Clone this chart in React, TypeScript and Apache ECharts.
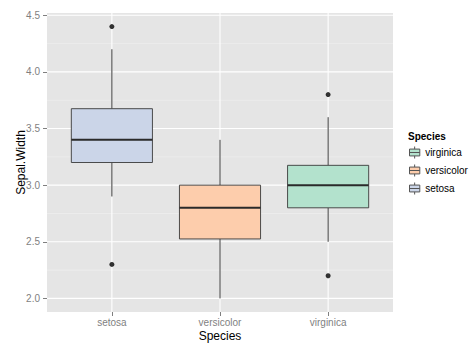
import React, { useEffect, useRef } from "react";
import * as echarts from "echarts";

const categories = ["setosa", "versicolor", "virginica"];
const lowerWhisker = [2.9, 2.0, 2.5];
const q1 = [3.2, 2.525, 2.8];
const medians = [3.4, 2.8, 3.0];
const q3 = [3.675, 3.0, 3.175];
const upperWhisker = [4.2, 3.4, 3.6];
const outliers: number[][] = [[2.3, 4.4], [], [2.2, 3.8]];
const fills = ["#CBD5E8", "#FDCDAC", "#B3E2CD"];
const yMajor = [2.0, 2.5, 3.0, 3.5, 4.0, 4.5];
const yMinor = [2.25, 2.75, 3.25, 3.75, 4.25];
const legendOrder = ["virginica", "versicolor", "setosa"];

export default function App() {
  const ref = useRef<HTMLDivElement>(null);
  useEffect(() => {
    if (!ref.current) return;
    const chart = echarts.init(ref.current, null, { renderer: "svg" });
    const xPos = categories.map((_, i) => i + 1);

    const gridSeries: any = {
      type: "custom",
      name: "_grid",
      silent: true,
      z: 1,
      data: [
        ...yMinor.map((v) => [0, v, 0]),
        ...yMajor.map((v) => [0, v, 1]),
        ...xPos.map((x) => [1, x, 1]),
      ],
      renderItem: (params: any, api: any) => {
        const cs = params.coordSys;
        const kind = api.value(0);
        const v = api.value(1);
        const major = api.value(2) === 1;
        if (kind === 0) {
          const y = api.coord([1, v])[1];
          return {
            type: "line",
            shape: { x1: cs.x, y1: y, x2: cs.x + cs.width, y2: y },
            style: { stroke: major ? "#FFFFFF" : "#F2F2F2", lineWidth: major ? 1.1 : 0.6 },
          };
        }
        const x = api.coord([v, 3])[0];
        return {
          type: "line",
          shape: { x1: x, y1: cs.y, x2: x, y2: cs.y + cs.height },
          style: { stroke: "#FFFFFF", lineWidth: 1.1 },
        };
      },
    };

    const boxSeries = categories.map((name, i) => ({
      type: "custom",
      name,
      z: 3,
      itemStyle: { color: fills[i] },
      data: [[xPos[i], lowerWhisker[i], q1[i], medians[i], q3[i], upperWhisker[i]]],
      renderItem: (params: any, api: any) => {
        const x = api.value(0);
        const pLo = api.coord([x, api.value(1)]);
        const pQ1 = api.coord([x, api.value(2)]);
        const pMed = api.coord([x, api.value(3)]);
        const pQ3 = api.coord([x, api.value(4)]);
        const pHi = api.coord([x, api.value(5)]);
        const half = api.size([0.75, 0])[0] / 2;
        const stroke = "#3A3A3A";
        return {
          type: "group",
          children: [
            { type: "line", shape: { x1: pLo[0], y1: pLo[1], x2: pQ1[0], y2: pQ1[1] }, style: { stroke, lineWidth: 1 } },
            { type: "line", shape: { x1: pQ3[0], y1: pQ3[1], x2: pHi[0], y2: pHi[1] }, style: { stroke, lineWidth: 1 } },
            {
              type: "rect",
              shape: { x: pQ1[0] - half, y: pQ3[1], width: half * 2, height: pQ1[1] - pQ3[1] },
              style: { fill: fills[i], stroke, lineWidth: 0.9 },
            },
            { type: "line", shape: { x1: pMed[0] - half, y1: pMed[1], x2: pMed[0] + half, y2: pMed[1] }, style: { stroke: "#2A2A2A", lineWidth: 2 } },
          ],
        };
      },
    }));

    const outlierSeries: any = {
      type: "scatter",
      name: "_outliers",
      z: 4,
      symbolSize: 5,
      itemStyle: { color: "#000000" },
      data: outliers.flatMap((arr, i) => arr.map((v) => [xPos[i], v])),
    };

    chart.setOption({
      animation: false,
      grid: {
        left: 47,
        right: 81,
        top: 13,
        bottom: 41,
        show: true,
        backgroundColor: "#E5E5E5",
        borderWidth: 0,
      },
      xAxis: {
        type: "value",
        min: 0.4,
        max: 3.6,
        name: "Species",
        nameLocation: "middle",
        nameGap: 18,
        nameMoveOverlap: false,
        nameTextStyle: { color: "#000000", fontSize: 12, fontFamily: "Liberation Sans" },
        axisLine: { show: false },
        splitLine: { show: false },
        axisTick: { show: true, length: 4, lineStyle: { color: "#7F7F7F" }, customValues: xPos },
        axisLabel: {
          customValues: xPos,
          color: "#7F7F7F",
          fontSize: 10,
          fontFamily: "Liberation Sans",
          margin: 5,
          formatter: (v: number) => categories[Math.round(v) - 1] ?? "",
        },
      },
      yAxis: {
        type: "value",
        min: 1.88,
        max: 4.52,
        name: "Sepal.Width",
        nameLocation: "middle",
        nameGap: 20,
        nameMoveOverlap: false,
        nameTextStyle: { color: "#000000", fontSize: 12, fontFamily: "Liberation Sans" },
        axisLine: { show: false },
        splitLine: { show: false },
        axisTick: { show: true, length: 4, lineStyle: { color: "#7F7F7F" }, customValues: yMajor },
        axisLabel: {
          customValues: yMajor,
          color: "#7F7F7F",
          fontSize: 10,
          fontFamily: "Liberation Sans",
          margin: 7,
          formatter: (v: number) => v.toFixed(1),
        },
      },
      legend: {
        data: legendOrder,
        orient: "vertical",
        left: 409,
        top: 146,
        padding: 0,
        itemWidth: 13,
        itemHeight: 12,
        itemGap: 5,
        icon: "path://M7,0L7,3M1,3L13,3L13,11L1,11ZM1,7L13,7M7,11L7,14",
        itemStyle: { borderColor: "#555555", borderWidth: 1 },
        textStyle: { color: "#000000", fontSize: 10, fontFamily: "Liberation Sans", padding: [0, 0, 0, -1] },
        selectedMode: false,
      },
      graphic: [
        {
          type: "text",
          left: 408,
          top: 131,
          style: { text: "Species", fontSize: 10, fontWeight: "bold", fill: "#000000", fontFamily: "Liberation Sans" },
        },
      ],
      series: [gridSeries, ...boxSeries, outlierSeries],
    });
    return () => chart.dispose();
  }, []);
  return <div ref={ref} style={{ width: 474, height: 353, position: "absolute", left: 0, top: 0 }} />;
}
